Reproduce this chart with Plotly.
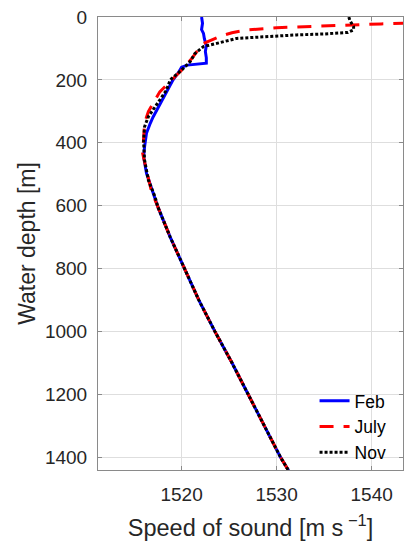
import plotly.graph_objects as go

# ---- data ----
feb_depth = [0, 20, 40, 52, 70, 90, 110, 130, 147, 153, 160, 175, 200, 228, 253, 275, 296, 318, 338, 370, 413, 444,
             497, 540, 604, 700, 800, 900, 1000, 1100, 1200, 1300, 1400, 1445]
feb_speed = [1522.1, 1522.2, 1522.1, 1522.3, 1522.4, 1522.6, 1522.5, 1522.6, 1522.6, 1520.6, 1520.0, 1519.7, 1519.1,
             1518.6, 1518.1, 1517.7, 1517.4, 1517.0, 1516.7, 1516.3, 1516.1, 1516.0,
             1516.3, 1516.8, 1517.5, 1518.8, 1520.3, 1521.8, 1523.5, 1525.3, 1527.0, 1528.7, 1530.4, 1531.3]

jul_depth = [0, 18, 22, 25, 29, 34, 41, 50, 60, 84, 110, 131, 163, 206, 238, 264, 301, 338, 392, 434, 487, 551, 604,
             700, 800, 900, 1000, 1100, 1200, 1300, 1400, 1445]
jul_speed = [1546.0, 1545.5, 1541.0, 1537.7, 1533.8, 1530.0, 1526.9, 1525.3, 1524.2, 1522.3, 1521.6, 1521.1, 1520.2,
             1518.8, 1517.7, 1517.2, 1516.5, 1516.1, 1516.0, 1515.9, 1516.3, 1516.8, 1517.5,
             1518.8, 1520.3, 1521.8, 1523.5, 1525.3, 1527.0, 1528.7, 1530.4, 1531.3]

nov_depth = [0, 10, 31, 41, 49, 54, 57, 63, 68, 84, 94, 116, 142, 169, 200, 233, 285, 317, 349, 397, 455, 519, 572, 604,
             700, 800, 900, 1000, 1100, 1200, 1300, 1400, 1445]
nov_speed = [1537.6, 1537.7, 1538.1, 1538.1, 1537.5, 1535.0, 1532.1, 1527.9, 1525.8, 1523.7, 1522.3, 1521.4, 1520.9,
             1520.0, 1518.8, 1518.4, 1517.2, 1516.5, 1516.1, 1516.0, 1516.1, 1516.5, 1517.2, 1517.5,
             1518.8, 1520.3, 1521.8, 1523.5, 1525.3, 1527.0, 1528.7, 1530.4, 1531.3]

x_ticks = [1520, 1530, 1540]
y_ticks = [0, 200, 400, 600, 800, 1000, 1200, 1400]

TXT = "#262626"
FONT = "Liberation Sans, Arial, Helvetica, sans-serif"

fig = go.Figure()
fig.add_trace(go.Scatter(x=feb_speed, y=feb_depth, mode="lines", name="Feb",
                         line=dict(color="#0000ff", width=3)))
fig.add_trace(go.Scatter(x=jul_speed, y=jul_depth, mode="lines", name="July",
                         line=dict(color="#ff0000", width=3, dash="14px,10px")))
fig.add_trace(go.Scatter(x=nov_speed, y=nov_depth, mode="lines", name="Nov",
                         line=dict(color="#000000", width=3, dash="3px,2px")))

axis_common = dict(showgrid=True, gridcolor="#dedede", gridwidth=1,
                   showline=True, linecolor="#8a8a8a", linewidth=1, mirror="ticks",
                   ticks="inside", ticklen=4, tickcolor="#8a8a8a", automargin=False,
                   ticklabeloverflow="allow",
                   zeroline=False, tickfont=dict(size=19, color=TXT, family=FONT))

fig.update_xaxes(range=[1511.2, 1543.3], tickvals=x_ticks, ticktext=[str(v) for v in x_ticks],
                 title=dict(text="Speed of sound [m s<sup> −1</sup>]", font=dict(size=23.5, color=TXT, family=FONT),
                            standoff=15),
                 ticklabelstandoff=7,
                 **axis_common)
fig.update_yaxes(range=[1441, 0], tickvals=y_ticks, ticktext=[str(v) for v in y_ticks],
                 title=dict(text="Water depth [m]", font=dict(size=23, color=TXT, family=FONT), standoff=2),
                 ticklabelstandoff=6,
                 **axis_common)

# page has an 8px body margin, so the figure is sized to fit the 412x550 window
fig.update_layout(
    width=404, height=542,
    margin=dict(l=90, r=9, t=9, b=80, autoexpand=False),
    paper_bgcolor="white", plot_bgcolor="white",
    font=dict(family=FONT, color=TXT),
    legend=dict(x=0.71, y=0.095, xanchor="left", yanchor="middle",
                bgcolor="rgba(255,255,255,0)", borderwidth=0,
                font=dict(size=17.5, color="#000000", family=FONT), tracegroupgap=0),
    showlegend=True,
)

fig.write_html("out.html")
